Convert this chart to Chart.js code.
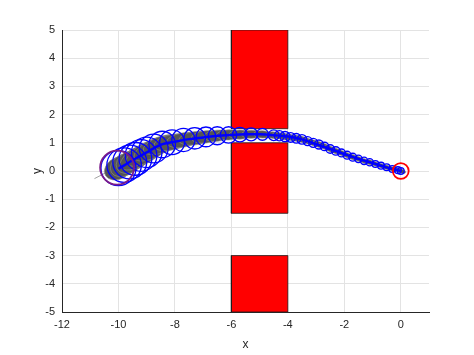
<!DOCTYPE html>
<html>
<head>
<meta charset="utf-8">
<script src="https://cdn.jsdelivr.net/npm/chart.js@4/dist/chart.umd.min.js"></script>
<style>
html,body{margin:0;padding:0;background:#fff;}
#wrap{width:474px;height:355px;}
</style>
</head>
<body>
<div id="wrap"><canvas id="c" width="474" height="355"></canvas></div>
<script>
// ---- data ----
const xTicks = [-12, -10, -8, -6, -4, -2, 0];
const yTicks = [-5, -4, -3, -2, -1, 0, 1, 2, 3, 4, 5];

// planned path (blue line)
const pathX = [-10, -9.5, -9, -8.5, -8, -7.5, -7, -6.5, -6, -5.5, -5, -4.5, -4, -3.5, -3, -2.5, -2, -1.5, -1, -0.5, 0];
const pathY = [0.08, 0.38, 0.66, 0.93, 1.04, 1.13, 1.19, 1.25, 1.28, 1.3, 1.3, 1.27, 1.22, 1.12, 0.95, 0.78, 0.6, 0.43, 0.28, 0.13, 0.0];

// uncertainty circles along the path
const circX = [-10, -9.8, -9.6, -9.4, -9.2, -9.0, -8.75, -8.45, -8.1, -7.7, -7.3, -6.9, -6.5, -6.1, -5.7, -5.3, -4.9,
               -4.5, -4.3, -4.1, -3.9, -3.7, -3.5, -3.3, -3.1, -2.9, -2.7, -2.5, -2.3, -2.1, -1.9, -1.7, -1.5, -1.3, -1.1, -0.9, -0.7, -0.5, -0.3, -0.1, 0];
const circY = [0.10, 0.21, 0.32, 0.43, 0.55, 0.66, 0.80, 0.94, 1.02, 1.10, 1.16, 1.21, 1.25, 1.28, 1.29, 1.30, 1.30,
               1.27, 1.25, 1.22, 1.19, 1.16, 1.12, 1.06, 1.0, 0.94, 0.87, 0.78, 0.71, 0.64, 0.56, 0.49, 0.43, 0.36, 0.31, 0.25, 0.19, 0.13, 0.07, 0.03, 0.0];
const circR = [0.62, 0.61, 0.6, 0.58, 0.56, 0.54, 0.51, 0.47, 0.44, 0.41, 0.38, 0.35, 0.32, 0.29, 0.26, 0.23, 0.21,
               0.19, 0.18, 0.18, 0.17, 0.17, 0.17, 0.16, 0.16, 0.16, 0.15, 0.15, 0.15, 0.14, 0.14, 0.14, 0.13, 0.13, 0.13, 0.12, 0.12, 0.12, 0.12, 0.12, 0.12];

// obstacles: [xmin, xmax, ymin, ymax]
const obsXmin = [-6, -6, -6];
const obsXmax = [-4, -4, -4];
const obsYmin = [1.5, -1.5, -5];
const obsYmax = [5, 1.0, -3];

// goal (red) and start (purple) markers
const goalX = 0, goalY = 0, goalR = 0.28;
const startX = -10.05, startY = 0.12, startR = 0.6;

// thin heading line at start
const headX = [-10.85, -9.4];
const headY = [-0.27, 0.48];

// ---- build datasets ----
function rectPts(i){
  return [
    {x: obsXmin[i], y: obsYmin[i]}, {x: obsXmax[i], y: obsYmin[i]},
    {x: obsXmax[i], y: obsYmax[i]}, {x: obsXmin[i], y: obsYmax[i]},
    {x: obsXmin[i], y: obsYmin[i]}
  ];
}
const datasets = [];
datasets.push({
  type: 'line', label: 'path',
  data: pathX.map((x, i) => ({x, y: pathY[i]})),
  borderColor: '#0000ff', borderWidth: 2.5, pointRadius: 0, fill: false, tension: 0.3
});
for (let i = 0; i < obsXmin.length; i++) {
  datasets.push({
    type: 'line', label: 'obs' + i,
    data: rectPts(i),
    borderColor: '#1a1a1a', borderWidth: 0.8, backgroundColor: '#ff0000',
    pointRadius: 0, fill: 'shape', tension: 0
  });
}
datasets.push({
  type: 'line', label: 'heading',
  data: headX.map((x, i) => ({x, y: headY[i]})),
  borderColor: '#8a8a8a', borderWidth: 0.8, pointRadius: 0, fill: false
});

const overlay = {
  id: 'overlay',
  afterDatasetDraw(chart, args) {
    if (args.index !== 1) return;
    const sx = chart.scales.x, sy = chart.scales.y, ctx = chart.ctx;
    const area = chart.chartArea;
    ctx.save();
    ctx.beginPath();
    ctx.rect(area.left, area.top, area.right - area.left, area.bottom - area.top);
    ctx.clip();
    const pxu = Math.abs(sx.getPixelForValue(1) - sx.getPixelForValue(0));
    const pyu = Math.abs(sy.getPixelForValue(1) - sy.getPixelForValue(0));
    const n = circX.length;
    // gray covariance ellipses
    for (let i = 0; i < n; i++) {
      const a = Math.max(0, i - 1), b = Math.min(n - 1, i + 1);
      const ang = Math.atan2(sy.getPixelForValue(circY[b]) - sy.getPixelForValue(circY[a]),
                             sx.getPixelForValue(circX[b]) - sx.getPixelForValue(circX[a]));
      const elong = i < 4 ? 0.85 : 1.5;
      ctx.beginPath();
      ctx.ellipse(sx.getPixelForValue(circX[i]), sy.getPixelForValue(circY[i]),
                  circR[i] * pxu * elong, circR[i] * pyu * 0.62, ang, 0, Math.PI * 2);
      ctx.fillStyle = '#555555';
      ctx.fill();
      ctx.strokeStyle = '#8f8f8f';
      ctx.lineWidth = 0.6;
      ctx.stroke();
    }
    // blue circles
    ctx.strokeStyle = '#0000ff';
    ctx.lineWidth = 1.3;
    for (let i = 0; i < n; i++) {
      ctx.beginPath();
      ctx.ellipse(sx.getPixelForValue(circX[i]), sy.getPixelForValue(circY[i]),
                  circR[i] * pxu, circR[i] * pyu, 0, 0, Math.PI * 2);
      ctx.stroke();
    }
    ctx.restore();
  },
  afterDatasetsDraw(chart) {
    const sx = chart.scales.x, sy = chart.scales.y, ctx = chart.ctx;
    const pxu = Math.abs(sx.getPixelForValue(1) - sx.getPixelForValue(0));
    const pyu = Math.abs(sy.getPixelForValue(1) - sy.getPixelForValue(0));
    ctx.save();
    ctx.lineWidth = 1.8;
    ctx.strokeStyle = '#ff0000';
    ctx.beginPath();
    ctx.ellipse(sx.getPixelForValue(goalX), sy.getPixelForValue(goalY), goalR * pxu, goalR * pyu, 0, 0, Math.PI * 2);
    ctx.stroke();
    ctx.strokeStyle = '#7a1a8a';
    ctx.beginPath();
    ctx.ellipse(sx.getPixelForValue(startX), sy.getPixelForValue(startY), startR * pxu, startR * pyu, 0, 0, Math.PI * 2);
    ctx.stroke();
    ctx.restore();
  }
};

const tickFont = {family: '"Liberation Sans", Arial, sans-serif', size: 11};
new Chart(document.getElementById('c'), {
  type: 'scatter',
  data: {datasets},
  plugins: [overlay],
  options: {
    responsive: false,
    animation: false,
    layout: {padding: {top: 30, right: 45, left: 26, bottom: 0}},
    plugins: {legend: {display: false}, tooltip: {enabled: false}},
    scales: {
      x: {
        type: 'linear', min: -12, max: 1,
        afterFit: s => { s.height = 43; },
        afterBuildTicks: s => { s.ticks = xTicks.map(v => ({value: v})); },
        ticks: {font: tickFont, color: '#262626', padding: 6, includeBounds: false},
        grid: {color: '#e3e3e3', lineWidth: 1, drawTicks: false},
        border: {color: '#262626', width: 1},
        title: {display: true, text: 'x', font: {family: tickFont.family, size: 12}, color: '#262626', padding: {top: 2, bottom: 3}}
      },
      y: {
        type: 'linear', min: -5, max: 5,
        afterFit: s => { s.width = 36; },
        afterBuildTicks: s => { s.ticks = yTicks.map(v => ({value: v})); },
        ticks: {font: tickFont, color: '#262626', padding: 7},
        grid: {color: '#e3e3e3', lineWidth: 1, drawTicks: false},
        border: {color: '#262626', width: 1},
        title: {display: true, text: 'y', font: {family: tickFont.family, size: 12}, color: '#262626', padding: 4}
      }
    }
  }
});
</script>
</body>
</html>
